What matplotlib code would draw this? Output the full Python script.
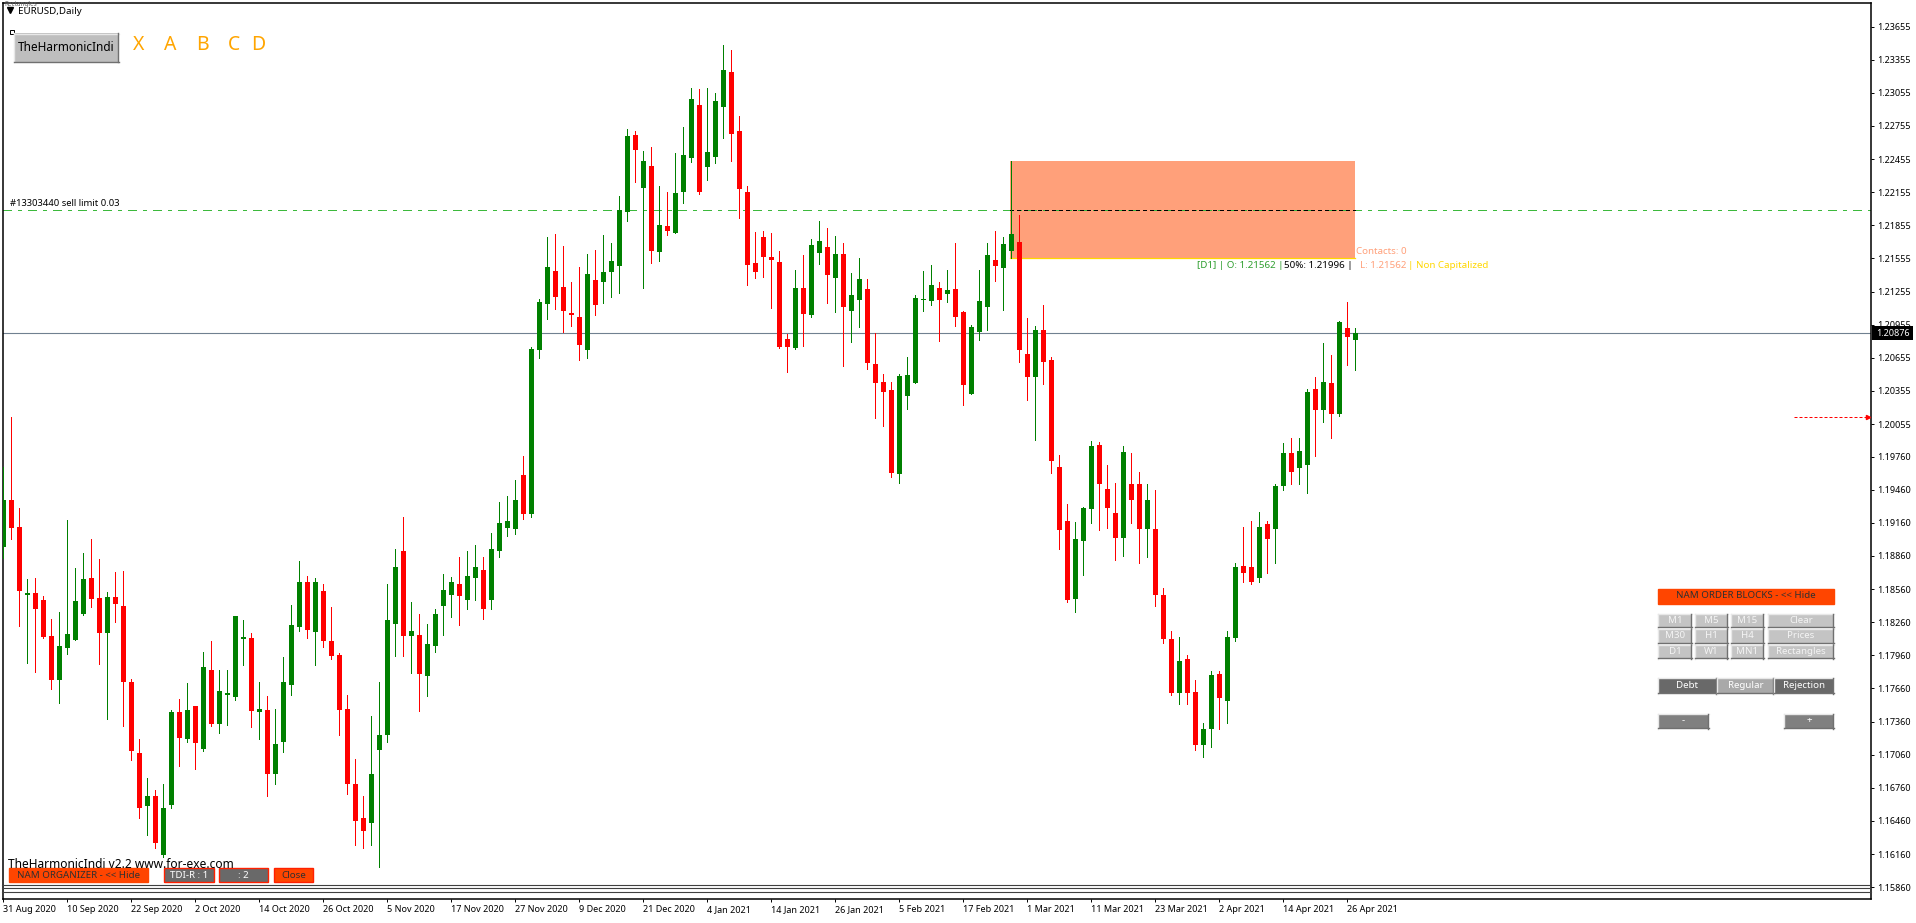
import matplotlib
matplotlib.use('Agg')
import matplotlib.pyplot as plt
from matplotlib.patches import Rectangle
import numpy as np

plt.rcParams['font.family'] = ['Noto Sans', 'DejaVu Sans']

# Daily EURUSD candles
opens = [
    1.18944, 1.19367, 1.19122, 1.18506, 1.18524, 1.18461, 1.18135, 1.17739, 1.18029, 1.18101,
    1.18334, 1.18660, 1.18479, 1.18165, 1.18488, 1.18406, 1.17718, 1.17072, 1.16595, 1.16684,
    1.16151, 1.16606, 1.17446, 1.17204, 1.17500, 1.17111, 1.17827, 1.17340, 1.17600, 1.17585,
    1.18107, 1.18117, 1.17449, 1.17464, 1.16883, 1.17177, 1.17694, 1.18219, 1.18624, 1.18174,
    1.18542, 1.18089, 1.17962, 1.17473, 1.16794, 1.16484, 1.16439, 1.17105, 1.17238, 1.18246,
    1.18905, 1.18138, 1.18144, 1.17775, 1.18047, 1.18409, 1.18506, 1.18604, 1.18460, 1.18659,
    1.18737, 1.18460, 1.18904, 1.19114, 1.19103, 1.19592, 1.19237, 1.20724, 1.21146, 1.21442,
    1.21297, 1.21061, 1.21025, 1.20726, 1.21360, 1.21345, 1.21435, 1.21490, 1.21979, 1.22673,
    1.22196, 1.22392, 1.21616, 1.21849, 1.21788, 1.22160, 1.22468, 1.22945, 1.22386, 1.22477,
    1.22930, 1.23244, 1.22710, 1.22157, 1.21514, 1.21749, 1.21568, 1.21522, 1.20825, 1.20746,
    1.21287, 1.21045, 1.21607, 1.21658, 1.21381, 1.21595, 1.21082, 1.21182, 1.21278, 1.20599,
    1.20436, 1.20363, 1.19605, 1.20312, 1.20430, 1.21179, 1.21173, 1.21288, 1.21236, 1.21278,
    1.21070, 1.20330, 1.20892, 1.21118, 1.21541, 1.21472, 1.21626, 1.21704, 1.20690, 1.20484,
    1.20907, 1.20635, 1.19666, 1.19177, 1.18473, 1.18998, 1.19288, 1.19865, 1.19466, 1.19249,
    1.19026, 1.19514, 1.19514, 1.19103, 1.19103, 1.18504, 1.18104, 1.17616, 1.17927, 1.17627,
    1.17150, 1.17294, 1.17793, 1.17549, 1.18115, 1.18770, 1.18759, 1.18659, 1.19148, 1.19103,
    1.19492, 1.19792, 1.19658, 1.19681, 1.20369, 1.20180, 1.20424, 1.20147, 1.20924, 1.20813,
]
closes = [
    1.19367, 1.19116, 1.18545, 1.18524, 1.18382, 1.18126, 1.17739, 1.18044, 1.18153, 1.18452,
    1.18651, 1.18473, 1.18165, 1.18488, 1.18428, 1.17721, 1.17094, 1.16573, 1.16684, 1.16262,
    1.16573, 1.17446, 1.17214, 1.17464, 1.17168, 1.17854, 1.17340, 1.17636, 1.17618, 1.18316,
    1.18126, 1.17458, 1.17473, 1.16883, 1.17156, 1.17718, 1.18234, 1.18624, 1.18192, 1.18624,
    1.18092, 1.17956, 1.17467, 1.16794, 1.16462, 1.16373, 1.16883, 1.17238, 1.18280, 1.18760,
    1.18138, 1.18180, 1.17793, 1.18062, 1.18334, 1.18551, 1.18624, 1.18493, 1.18681, 1.18759,
    1.18382, 1.18926, 1.19159, 1.19181, 1.19370, 1.19237, 1.20735, 1.21161, 1.21478, 1.21209,
    1.21082, 1.21043, 1.20771, 1.21414, 1.21137, 1.21432, 1.21532, 1.21994, 1.22665, 1.22540,
    1.22438, 1.21625, 1.21858, 1.21807, 1.22148, 1.22492, 1.22999, 1.22160, 1.22519, 1.22981,
    1.23262, 1.22685, 1.22187, 1.21499, 1.21435, 1.21571, 1.21544, 1.20755, 1.20755, 1.21287,
    1.21054, 1.21676, 1.21713, 1.21408, 1.21595, 1.21118, 1.21224, 1.21369, 1.20611, 1.20430,
    1.20348, 1.19614, 1.20490, 1.20499, 1.21197, 1.21188, 1.21315, 1.21182, 1.21269, 1.21028,
    1.20412, 1.20934, 1.21170, 1.21586, 1.21490, 1.21686, 1.21777, 1.20729, 1.20484, 1.20907,
    1.20620, 1.19723, 1.19098, 1.18464, 1.19013, 1.19294, 1.19856, 1.19515, 1.19297, 1.19026,
    1.19802, 1.19370, 1.19103, 1.19370, 1.18504, 1.18104, 1.17616, 1.17905, 1.17616, 1.17150,
    1.17294, 1.17782, 1.17571, 1.18126, 1.18759, 1.18704, 1.18626, 1.19126, 1.19015, 1.19492,
    1.19792, 1.19625, 1.19814, 1.20347, 1.20180, 1.20435, 1.20147, 1.20979, 1.20846, 1.20876,
]
highs = [
    1.19669, 1.20119, 1.19294, 1.18651, 1.18660, 1.18497, 1.18289, 1.18352, 1.19186, 1.18751,
    1.18887, 1.19013, 1.18832, 1.18533, 1.18714, 1.18724, 1.17745, 1.17201, 1.16850, 1.16739,
    1.16794, 1.17464, 1.17564, 1.17709, 1.17500, 1.17990, 1.18089, 1.17827, 1.17827, 1.18316,
    1.18280, 1.18162, 1.17718, 1.17591, 1.17473, 1.17944, 1.18415, 1.18814, 1.18678, 1.18660,
    1.18606, 1.18397, 1.17981, 1.17600, 1.17017, 1.16684, 1.17410, 1.17718, 1.18606, 1.18923,
    1.19213, 1.18443, 1.18334, 1.18243, 1.18379, 1.18696, 1.18666, 1.18848, 1.18904, 1.18959,
    1.18848, 1.19070, 1.19348, 1.19403, 1.19547, 1.19769, 1.20757, 1.21188, 1.21750, 1.21777,
    1.21668, 1.21342, 1.21478, 1.21596, 1.21632, 1.21768, 1.21695, 1.22121, 1.22728, 1.22710,
    1.22528, 1.22565, 1.22211, 1.22157, 1.22510, 1.22746, 1.23099, 1.23090, 1.23099, 1.23054,
    1.23489, 1.23443, 1.22845, 1.22211, 1.21794, 1.21804, 1.21785, 1.21622, 1.20870, 1.21450,
    1.21586, 1.21731, 1.21894, 1.21831, 1.21758, 1.21695, 1.21423, 1.21559, 1.21369, 1.20877,
    1.20508, 1.20436, 1.20508, 1.20662, 1.21224, 1.21442, 1.21496, 1.21342, 1.21451, 1.21695,
    1.21079, 1.20952, 1.21451, 1.21695, 1.21804, 1.21750, 1.22433, 1.21950, 1.21016, 1.20943,
    1.21133, 1.20662, 1.19774, 1.19331, 1.19167, 1.19303, 1.19901, 1.19892, 1.19684, 1.19521,
    1.19856, 1.19793, 1.19625, 1.19514, 1.19459, 1.18571, 1.18182, 1.18126, 1.17960, 1.17738,
    1.17349, 1.17816, 1.17816, 1.18182, 1.18793, 1.19126, 1.19181, 1.19259, 1.19181, 1.19514,
    1.19880, 1.19925, 1.19925, 1.20369, 1.20480, 1.20791, 1.20680, 1.20990, 1.21157, 1.20924,
]
lows = [
    1.18844, 1.19013, 1.18228, 1.17893, 1.17811, 1.18120, 1.17657, 1.17531, 1.17975, 1.18101,
    1.18325, 1.18400, 1.17884, 1.17386, 1.18264, 1.17322, 1.17016, 1.16484, 1.16329, 1.16218,
    1.16129, 1.16573, 1.16961, 1.17177, 1.16928, 1.17096, 1.17322, 1.17259, 1.17331, 1.17558,
    1.17875, 1.17313, 1.17204, 1.16684, 1.16794, 1.17087, 1.17603, 1.18183, 1.18120, 1.17875,
    1.18038, 1.17929, 1.17238, 1.16705, 1.16240, 1.16218, 1.16240, 1.16040, 1.17172, 1.17956,
    1.17956, 1.17802, 1.17458, 1.17594, 1.17993, 1.18147, 1.18310, 1.18238, 1.18382, 1.18460,
    1.18293, 1.18382, 1.18848, 1.19037, 1.19059, 1.19192, 1.19214, 1.20657, 1.21010, 1.21100,
    1.20892, 1.20946, 1.20635, 1.20650, 1.21046, 1.21155, 1.21209, 1.21245, 1.21898, 1.22250,
    1.21290, 1.21517, 1.21535, 1.21770, 1.21788, 1.22060, 1.22432, 1.22142, 1.22269, 1.22423,
    1.22649, 1.22441, 1.21924, 1.21317, 1.21381, 1.21390, 1.21109, 1.20746, 1.20529, 1.20734,
    1.20764, 1.21027, 1.21507, 1.21154, 1.21072, 1.20583, 1.20801, 1.20937, 1.20557, 1.20113,
    1.20040, 1.19578, 1.19524, 1.20194, 1.20430, 1.21082, 1.21137, 1.20810, 1.21164, 1.20946,
    1.20231, 1.20330, 1.20819, 1.20910, 1.21354, 1.21091, 1.21559, 1.20620, 1.20276, 1.19913,
    1.20421, 1.19614, 1.18926, 1.18446, 1.18355, 1.18690, 1.19161, 1.19098, 1.19116, 1.18826,
    1.18863, 1.19161, 1.18793, 1.18848, 1.18404, 1.18071, 1.17605, 1.17516, 1.17516, 1.17105,
    1.17039, 1.17127, 1.17294, 1.17349, 1.18093, 1.18626, 1.18604, 1.18626, 1.18704, 1.18793,
    1.19459, 1.19514, 1.19514, 1.19426, 1.19769, 1.20069, 1.19925, 1.20125, 1.20591, 1.20546,
]

price_ticks = [1.23655, 1.23355, 1.23055, 1.22755, 1.22455, 1.22155, 1.21855, 1.21555, 1.21255,
               1.20955, 1.20655, 1.20355, 1.20055, 1.19760, 1.19460, 1.19160, 1.18860, 1.18560,
               1.18260, 1.17960, 1.17660, 1.17360, 1.17060, 1.16760, 1.16460, 1.16160, 1.15860]
date_labels = ['31 Aug 2020', '10 Sep 2020', '22 Sep 2020', '2 Oct 2020', '14 Oct 2020', '26 Oct 2020',
               '5 Nov 2020', '17 Nov 2020', '27 Nov 2020', '9 Dec 2020', '21 Dec 2020', '4 Jan 2021',
               '14 Jan 2021', '26 Jan 2021', '5 Feb 2021', '17 Feb 2021', '1 Mar 2021', '11 Mar 2021',
               '23 Mar 2021', '2 Apr 2021', '14 Apr 2021', '26 Apr 2021']
bid_price = 1.20876
order_price = 1.21996
block_top = 1.22433
block_bottom = 1.21562
block_start = 126
block_end = 169
stop_price = 1.20120

W, H = 1916, 923
fig = plt.figure(figsize=(W / 100, H / 100), dpi=100, facecolor='white')
# chart frame, in pixels of the screenshot
L_PX, R_PX, T_PX, B_PX = 2.5, 1871, 2.5, 899
ax = fig.add_axes([L_PX / W, 1 - B_PX / H, (R_PX - L_PX) / W, (B_PX - T_PX) / H])
ax.set_xlim(-0.104, 233.46)
ax.set_ylim(1.15753, 1.23873)

x = np.arange(len(opens))
opens, closes, highs, lows = map(np.array, (opens, closes, highs, lows))
up = closes >= opens
colors = np.where(up, '#008000', '#FF0000')

# order block
ax.add_patch(Rectangle((block_start - 0.2, block_bottom), block_end - block_start + 0.2, block_top - block_bottom,
                       facecolor='#FFA07A', edgecolor='none', zorder=1))
ax.plot([block_start - 0.2, block_end], [block_bottom, block_bottom], color='#FFD700', lw=0.9, zorder=2)

ax.axhline(order_price, color='#3CB93C', lw=0.72, ls=(0, (9, 6, 3, 6)), antialiased=False, zorder=2)
ax.axhline(bid_price, color='#708090', lw=0.8, zorder=2)
ax.plot([block_start - 0.2, block_end], [order_price, order_price], color='black', lw=0.72, ls=(0, (4, 3)),
        antialiased=False, zorder=3)

ax.vlines(x, lows, highs, colors=colors, lw=0.72, zorder=4, antialiased=False)
ax.bar(x, np.maximum(np.abs(closes - opens), 0.00012), bottom=np.minimum(opens, closes), width=0.63,
       color=colors, linewidth=0, zorder=5, antialiased=False)

ax.yaxis.tick_right()
ax.set_yticks(price_ticks)
ax.set_yticklabels(['%.5f' % p for p in price_ticks], fontsize=6.5, color='black')
ax.tick_params(axis='y', length=2.5, width=0.7, pad=2, direction='out')
ax.set_xticks(x[::8])
ax.set_xticklabels(date_labels, fontsize=6.5, ha='left', color='black')
ax.tick_params(axis='x', length=2.5, width=0.7, pad=2, direction='out')
for s in ax.spines.values():
    s.set_linewidth(1.1)
    s.set_color('black')

# screen overlay in pixel coordinates
ov = fig.add_axes([0, 0, 1, 1], facecolor='none')
ov.set_xlim(0, W)
ov.set_ylim(H, 0)
ov.axis('off')


def button(x0, x1, y0, y1, label, face, tc='black', fs=7, edge=None):
    ov.add_patch(Rectangle((x0, y0), x1 - x0, y1 - y0, facecolor=face, edgecolor=edge if edge else 'none', lw=1))
    if edge is None:
        ov.plot([x0, x1], [y0 + 0.5, y0 + 0.5], color='#E8E8E8', lw=1)
        ov.plot([x0 + 0.5, x0 + 0.5], [y0, y1], color='#E8E8E8', lw=1)
        ov.plot([x0, x1], [y1 - 0.5, y1 - 0.5], color='#707070', lw=1)
        ov.plot([x1 - 0.5, x1 - 0.5], [y0, y1], color='#707070', lw=1)
    ov.text((x0 + x1) / 2, (y0 + y1) / 2, label, ha='center', va='center', fontsize=fs, color=tc)


# bottom separators
for yy in (885, 888, 892):
    ov.plot([L_PX, R_PX], [yy, yy], color='#404040', lw=0.8)

# top left
ov.text(18, 11.5, 'EURUSD,Daily', fontsize=7, va='center', color='black')
ov.text(4, 4.5, 'Rectangles', fontsize=4.6, va='center', color='#606060')
ov.plot([10], [10], marker='v', ms=5, color='black')
ov.plot([12.5], [32], marker='s', ms=2.5, mfc='white', mec='black', mew=0.7)
button(14, 119, 33, 62, 'TheHarmonicIndi', '#BEBEBE', fs=8.5)
for lx, lab in zip((139, 170.5, 202.5, 234.5, 258.5), 'XABCD'):
    ov.text(lx, 45.5, lab, fontsize=14, color='#FFA500', ha='center', va='center')

ov.text(10, 203, '#13303440 sell limit 0.03', fontsize=6.8, va='center', color='black')

# block labels
ov.text(1356, 251, 'Contacts: 0', fontsize=7, va='center', color='#FFA07A')
ov.text(1197, 265, '[D1] | O: 1.21562 |', fontsize=7, va='center', color='#2E9E2E')
ov.text(1284, 265, '50%: 1.21996 |', fontsize=7, va='center', color='black')
ov.text(1360, 265, 'L: 1.21562', fontsize=7, va='center', color='#FFA07A')
ov.text(1408, 265, '| Non Capitalized', fontsize=7, va='center', color='#FFD700')

# current price tag
ov.add_patch(Rectangle((1872, 326), 41, 14, facecolor='black', edgecolor='none'))
ov.text(1892.5, 333, '%.5f' % bid_price, fontsize=6.5, color='white', ha='center', va='center')

# pending arrow line
sy = 333.4 + (bid_price - stop_price) * 11040
ov.plot([1794, 1868], [sy, sy], color='#FF0000', lw=0.72, ls=(0, (3, 2)))
ov.plot([1868], [sy], marker='>', ms=3, color='#FF0000')

# right panel
button(1658, 1834, 588.5, 603.5, 'NAM ORDER BLOCKS - << Hide', '#FF4500', tc='#303030', fs=7, edge='#FF4500')
rows = [(613.5, 627.5, ['M1', 'M5', 'M15', 'Clear']), (628.5, 643.5, ['M30', 'H1', 'H4', 'Prices']),
        (644.5, 658.5, ['D1', 'W1', 'MN1', 'Rectangles'])]
cols = [(1658, 1692), (1695, 1728), (1731, 1764), (1768, 1834)]
for y0, y1, names in rows:
    for (x0, x1), name in zip(cols, names):
        button(x0, x1, y0, y1, name, '#C4C4C4', tc='#F4F4F4', fs=7)
button(1658, 1717, 677.5, 693.5, 'Debt', '#696969', tc='white', fs=7)
button(1717, 1774, 677.5, 693.5, 'Regular', '#A9A9A9', tc='white', fs=7)
button(1774, 1834, 677.5, 693.5, 'Rejection', '#696969', tc='white', fs=7)
button(1658, 1709, 713.5, 728.5, '-', '#808080', tc='white', fs=7)
button(1784, 1834, 713.5, 728.5, '+', '#808080', tc='white', fs=7)

# bottom left
ov.text(8, 865, 'TheHarmonicIndi v2.2 www.for-exe.com', fontsize=8.6, va='center', color='black')
button(9, 148, 868, 882, 'NAM ORGANIZER - << Hide', '#FF4500', tc='#303030', fs=7, edge='#FF4500')
button(164, 214, 868, 882, 'TDI-R : 1', '#696969', tc='white', fs=7, edge='#FF2000')
button(219, 268, 868, 882, ': 2', '#696969', tc='white', fs=7, edge='#FF2000')
button(274, 313, 868, 882, 'Close', '#FF4500', tc='#303030', fs=7, edge='#FF2000')

fig.savefig('out.png', dpi=100)
